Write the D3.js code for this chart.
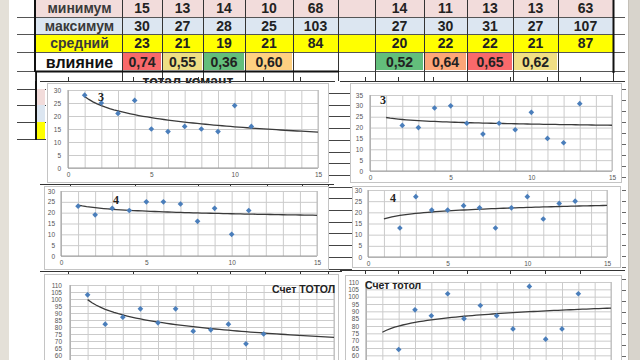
<!DOCTYPE html>
<html><head><meta charset="utf-8">
<script src="https://cdn.jsdelivr.net/npm/d3@7"></script>
<style>html,body{margin:0;padding:0;background:#fff;overflow:hidden}svg{display:block}</style>
</head><body>
<svg id="c" width="640" height="360"></svg>
<script>
// ---------- data ----------
const rowLabels = ["минимум", "максимум", "средний", "влияние"];
const leftMin  = [15, 13, 14, 10, 68];
const leftMax  = [30, 27, 28, 25, 103];
const leftAvg  = [23, 21, 19, 21, 84];
const leftInfl = ["0,74", "0,55", "0,36", "0,60", ""];
const rightMin  = [14, 11, 13, 13, 63];
const rightMax  = [27, 30, 31, 27, 107];
const rightAvg  = [20, 22, 22, 21, 87];
const rightInfl = ["0,52", "0,64", "0,65", "0,62", ""];

const c1x = [1, 2, 3, 4, 5, 6, 7, 8, 9, 10, 11];
const c1y = [28, 25, 21, 26, 15, 14, 16, 15, 14, 24, 16];
const c2x = [2, 3, 4, 5, 6, 7, 8, 9, 10, 11, 12, 13];
const c2y = [21, 20, 29, 30, 22, 17, 22, 19, 27, 15, 13, 31];
const c3x = [1, 2, 3, 4, 5, 6, 7, 8, 9, 10, 11];
const c3y = [23, 19, 22, 21, 25, 25, 24, 16, 22, 10, 21];
const c4x = [2, 3, 4, 5, 6, 7, 8, 9, 10, 11, 12, 13];
const c4y = [13, 27, 21, 21, 23, 22, 13, 22, 27, 17, 24, 25];
const c5x = [1, 2, 3, 4, 5, 6, 7, 8, 9, 10, 11];
const c5y = [103, 82, 87, 93, 83, 93, 77, 78, 82, 68, 75];
const c6x = [2, 3, 4, 5, 6, 7, 8, 9, 10, 11, 12, 13];
const c6y = [64, 91, 87, 102, 85, 94, 87, 78, 107, 71, 78, 102];

const xTickLabels = [0, 5, 10, 15];
const xGridValues = [0,1,2,3,4,5,6,7,8,9,10,11,12,13,14,15];
const yTicks30  = [0, 5, 10, 15, 20, 25, 30];
const yTicks35  = [0, 5, 10, 15, 20, 25, 30, 35];
const yTicks110 = [60, 65, 70, 75, 80, 85, 90, 95, 100, 105, 110];
const chartLabels = ["3", "3", "4", "4", "Счет ТОТОЛ", "Счет тотол"];
const hiddenTitle = "тотал комант";

// ---------- drawing ----------
const svg = d3.select("#c");
const SANS = "'Liberation Sans', Arial, sans-serif";

svg.append("rect").attr("width", 640).attr("height", 360).attr("fill", "#fff");
svg.append("rect").attr("x", 0).attr("y", 0).attr("width", 9).attr("height", 360).attr("fill", "#e4e0d8");
svg.append("rect").attr("x", 628).attr("y", 0).attr("width", 12).attr("height", 360).attr("fill", "#d8d4cc");
svg.append("line").attr("x1", 628.5).attr("x2", 628.5).attr("y1", 0).attr("y2", 360).attr("stroke", "#c4c0b8");

// spreadsheet lines behind the charts
const lineG = svg.append("g").attr("stroke", "#444").attr("stroke-width", 1);
[89, 105, 122, 139].forEach(yy => lineG.append("line").attr("x1", 17).attr("x2", 46).attr("y1", yy + .5).attr("y2", yy + .5));
svg.append("rect").attr("x", 36).attr("y", 89).attr("width", 9).attr("height", 16).attr("fill", "#f2dcdb");
svg.append("rect").attr("x", 36).attr("y", 105).attr("width", 9).attr("height", 17).attr("fill", "#dce6f1");
svg.append("rect").attr("x", 36).attr("y", 122).attr("width", 9).attr("height", 17).attr("fill", "#ffff00");
svg.append("line").attr("x1", 36).attr("x2", 36).attr("y1", 71).attr("y2", 140).attr("stroke", "#111").attr("stroke-width", 2);
d3.range(93, 270, 11.7).forEach(yy => lineG.append("line").attr("x1", 328).attr("x2", 352).attr("y1", Math.round(yy) + .5).attr("y2", Math.round(yy) + .5));

// ---------- table ----------
const colEdges = [35, 122, 162, 203, 245, 293, 338, 375, 424, 467, 513, 558, 613];
const rowEdges = [-2, 17, 34, 52, 71];
const rowFills = ["#f2dcdb", "#dce6f1", "#ffff00", "#ffffff"];
const tG = svg.append("g");
rowFills.forEach((f, i) => tG.append("rect").attr("x", colEdges[0]).attr("y", rowEdges[i])
  .attr("width", colEdges[colEdges.length - 1] - colEdges[0]).attr("height", rowEdges[i + 1] - rowEdges[i]).attr("fill", f));

function inflScale(vals) {
  const nums = vals.filter(v => v !== "").map(v => +v.replace(",", "."));
  return d3.scaleLinear().domain([d3.min(nums), d3.median(nums), d3.max(nums)])
    .range(["#63be7b", "#ffe285", "#f8696b"]);
}
const leftCols = [1, 2, 3, 4, 5], rightCols = [7, 8, 9, 10, 11];
function drawGroup(cols, mins, maxs, avgs, infl) {
  const sc = inflScale(infl);
  cols.forEach((c, i) => {
    const x0 = colEdges[c], x1 = colEdges[c + 1], cx = (x0 + x1) / 2;
    if (infl[i] !== "") {
      tG.append("rect").attr("x", x0 + 1).attr("y", rowEdges[3] + 1).attr("width", x1 - x0 - 2)
        .attr("height", rowEdges[4] - rowEdges[3] - 2).attr("fill", sc(+infl[i].replace(",", ".")));
    }
    [mins[i], maxs[i], avgs[i], infl[i]].forEach((v, r) => {
      tG.append("text").attr("x", cx).attr("y", (rowEdges[r] + rowEdges[r + 1]) / 2 + 5)
        .attr("text-anchor", "middle").attr("font-family", SANS).attr("font-weight", "bold")
        .attr("font-size", 14).attr("fill", "#222").text(v);
    });
  });
}
drawGroup(leftCols, leftMin, leftMax, leftAvg, leftInfl);
drawGroup(rightCols, rightMin, rightMax, rightAvg, rightInfl);
rowLabels.forEach((t, r) => {
  tG.append("text").attr("x", (colEdges[0] + colEdges[1]) / 2 + 1).attr("y", (rowEdges[r] + rowEdges[r + 1]) / 2 + (r === 3 ? 6 : 5))
    .attr("text-anchor", "middle").attr("font-family", SANS).attr("font-weight", "bold")
    .attr("font-size", r === 3 ? 16 : 14).attr("fill", r === 3 ? "#111" : "#3a3a3a").text(t);
});
rowEdges.slice(1).forEach(yy => tG.append("line").attr("x1", 17).attr("x2", 625).attr("y1", yy + .5).attr("y2", yy + .5).attr("stroke", "#555"));
colEdges.forEach(xx => tG.append("line").attr("x1", xx + .5).attr("x2", xx + .5).attr("y1", 0).attr("y2", 81).attr("stroke", "#333"));
tG.append("line").attr("x1", 35).attr("x2", 35).attr("y1", 0).attr("y2", 72).attr("stroke", "#111").attr("stroke-width", 2);
tG.append("line").attr("x1", 35).attr("x2", 339).attr("y1", 71.5).attr("y2", 71.5).attr("stroke", "#111").attr("stroke-width", 2);
tG.append("line").attr("x1", 613.5).attr("x2", 613.5).attr("y1", 0).attr("y2", 73).attr("stroke", "#111").attr("stroke-width", 2);

// hidden title of a chart behind
svg.append("text").attr("x", 188).attr("y", 86).attr("text-anchor", "middle").attr("font-family", SANS)
  .attr("font-weight", "bold").attr("font-size", 14).attr("fill", "#222").text(hiddenTitle);

// axis lines of charts hidden behind
function hiddenAxis(y, x1, x2, ticks, dir) {
  const g = svg.append("g").attr("stroke", "#333");
  g.append("line").attr("x1", x1).attr("x2", x2).attr("y1", y + .5).attr("y2", y + .5);
  ticks.forEach(t => g.append("line").attr("x1", t + .5).attr("x2", t + .5).attr("y1", y).attr("y2", y + dir * 4));
}
hiddenAxis(81, 40, 335, [68, 133, 198, 263, 300], -1);
hiddenAxis(81, 340, 625, [365, 398, 433, 467, 510, 547, 580], -1);
hiddenAxis(184, 40, 334, [70, 135, 198, 230, 267, 302, 328], 1);
hiddenAxis(271, 40, 342, [68, 133, 197, 230, 265, 300, 328], 1);
hiddenAxis(270, 340, 625, [365, 398, 433, 467, 510, 545, 580], 1);
// right side tick marks
[[85, 182], [186, 268], [275, 360]].forEach(([a, b]) => {
  d3.range(a + 4, b, 11).forEach(yy => svg.append("line").attr("x1", 622).attr("x2", 626)
    .attr("y1", Math.round(yy) + .5).attr("y2", Math.round(yy) + .5).attr("stroke", "#666"));
});

// ---------- charts ----------
function logFit(xs, ys) {
  const lx = xs.map(Math.log), mx = d3.mean(lx), my = d3.mean(ys);
  const b = d3.sum(lx, (v, i) => (v - mx) * (ys[i] - my)) / d3.sum(lx, v => (v - mx) * (v - mx));
  return { a: my - b * mx, b };
}
let clipId = 0;
function drawChart(cfg) {
  const g = svg.append("g");
  const [ax0, ay0, ax1, ay1] = cfg.area;
  const id = "clip" + (clipId++);
  svg.append("clipPath").attr("id", id).append("rect").attr("x", ax0).attr("y", ay0).attr("width", ax1 - ax0).attr("height", ay1 - ay0);
  g.attr("clip-path", `url(#${id})`);
  g.append("rect").attr("x", ax0 + .5).attr("y", ay0 + .5).attr("width", ax1 - ax0 - 1).attr("height", ay1 - ay0 - 1)
    .attr("fill", "#fff").attr("stroke", "#c4c4c4");
  const x = d3.scaleLinear().domain([0, 15]).range([cfg.px0, cfg.px1]);
  const y = d3.scaleLinear().domain([cfg.yMin, cfg.yMax]).range([cfg.pyMin, cfg.pyMax]);
  const ph = y(cfg.yMin) - y(cfg.yMax), pw = x(15) - x(0);
  const gv = g.append("g").attr("transform", `translate(0,${y(cfg.yMin)})`)
    .call(d3.axisBottom(x).tickValues(xGridValues).tickSize(-ph).tickFormat(""));
  const gh = g.append("g").attr("transform", `translate(${x(0)},0)`)
    .call(d3.axisLeft(y).tickValues(cfg.yTicks).tickSize(-pw).tickFormat(""));
  [gv, gh].forEach(a => { a.select(".domain").remove(); a.selectAll("line").attr("stroke", "#cbcbcb"); });
  g.append("line").attr("x1", x(0)).attr("x2", x(0)).attr("y1", y(cfg.yMax)).attr("y2", y(cfg.yMin)).attr("stroke", "#9a9a9a");
  g.append("line").attr("x1", x(0)).attr("x2", x(15)).attr("y1", y(cfg.yMin)).attr("y2", y(cfg.yMin)).attr("stroke", "#9a9a9a");
  g.append("line").attr("x1", x(15)).attr("x2", x(15)).attr("y1", y(cfg.yMax)).attr("y2", y(cfg.yMin)).attr("stroke", "#bdbdbd");
  const yl = g.append("g").attr("transform", `translate(${x(0)},0)`)
    .call(d3.axisLeft(y).tickValues(cfg.yTicks).tickSize(0).tickPadding(cfg.ypad));
  const axes = [yl];
  if (cfg.showX) {
    axes.push(g.append("g").attr("transform", `translate(0,${y(cfg.yMin)})`)
      .call(d3.axisBottom(x).tickValues(xTickLabels).tickSize(0).tickPadding(4)));
  }
  axes.forEach(a => {
    a.select(".domain").remove();
    a.selectAll("text").attr("font-family", SANS).attr("font-size", 6.5).attr("fill", "#555");
  });
  // trendline
  const f = logFit(cfg.xs, cfg.ys);
  const tx = d3.range(1, 15.01, 0.25);
  g.append("path").attr("d", d3.line().x(d => x(d)).y(d => y(f.a + f.b * Math.log(d)))(tx))
    .attr("fill", "none").attr("stroke", "#3a3a3a").attr("stroke-width", 1.3);
  // markers
  g.selectAll(".pt").data(cfg.xs.map((v, i) => [v, cfg.ys[i]])).enter().append("path")
    .attr("transform", d => `translate(${x(d[0])},${y(d[1])}) rotate(45)`)
    .attr("d", d3.symbol(d3.symbolSquare, 16)).attr("fill", "#4a7ebb");
  // label
  g.append("text").attr("x", cfg.lx).attr("y", cfg.ly).attr("text-anchor", cfg.anchor)
    .attr("font-family", cfg.serif ? "'Liberation Serif', serif" : SANS).attr("font-weight", "bold")
    .attr("font-size", cfg.fs).attr("fill", "#222").text(cfg.label);
}

drawChart({ area: [47, 83, 329, 183], px0: 68, px1: 318, yMin: 0, yMax: 30, pyMin: 168, pyMax: 90, yTicks: yTicks30, ypad: 7, showX: true,
  xs: c1x, ys: c1y, label: chartLabels[0], lx: 101, ly: 101, anchor: "middle", fs: 12, serif: true });
drawChart({ area: [350, 83, 622, 183], px0: 370, px1: 612, yMin: 0, yMax: 35, pyMin: 171, pyMax: 95, yTicks: yTicks35, ypad: 7, showX: true,
  xs: c2x, ys: c2y, label: chartLabels[1], lx: 383, ly: 104, anchor: "middle", fs: 12, serif: true });
drawChart({ area: [44, 186, 329, 270], px0: 61, px1: 317, yMin: 0, yMax: 30, pyMin: 256, pyMax: 191, yTicks: yTicks30, ypad: 6, showX: true,
  xs: c3x, ys: c3y, label: chartLabels[2], lx: 116, ly: 204, anchor: "middle", fs: 12, serif: true });
drawChart({ area: [352, 186, 621, 268], px0: 368, px1: 607, yMin: 0, yMax: 30, pyMin: 257, pyMax: 190, yTicks: yTicks30, ypad: 6, showX: true,
  xs: c4x, ys: c4y, label: chartLabels[3], lx: 393, ly: 202, anchor: "middle", fs: 12, serif: true });
drawChart({ area: [44, 274, 339, 362], px0: 70, px1: 334, yMin: 50, yMax: 110, pyMin: 369, pyMax: 285, yTicks: yTicks110, ypad: 8, showX: false,
  xs: c5x, ys: c5y, label: chartLabels[4], lx: 335, ly: 293, anchor: "end", fs: 10.5, serif: false });
drawChart({ area: [345, 275, 622, 362], px0: 366, px1: 611, yMin: 50, yMax: 110, pyMin: 370, pyMax: 282, yTicks: yTicks110, ypad: 7, showX: false,
  xs: c6x, ys: c6y, label: chartLabels[5], lx: 365, ly: 289, anchor: "start", fs: 10.5, serif: false });
</script>
</body></html>
